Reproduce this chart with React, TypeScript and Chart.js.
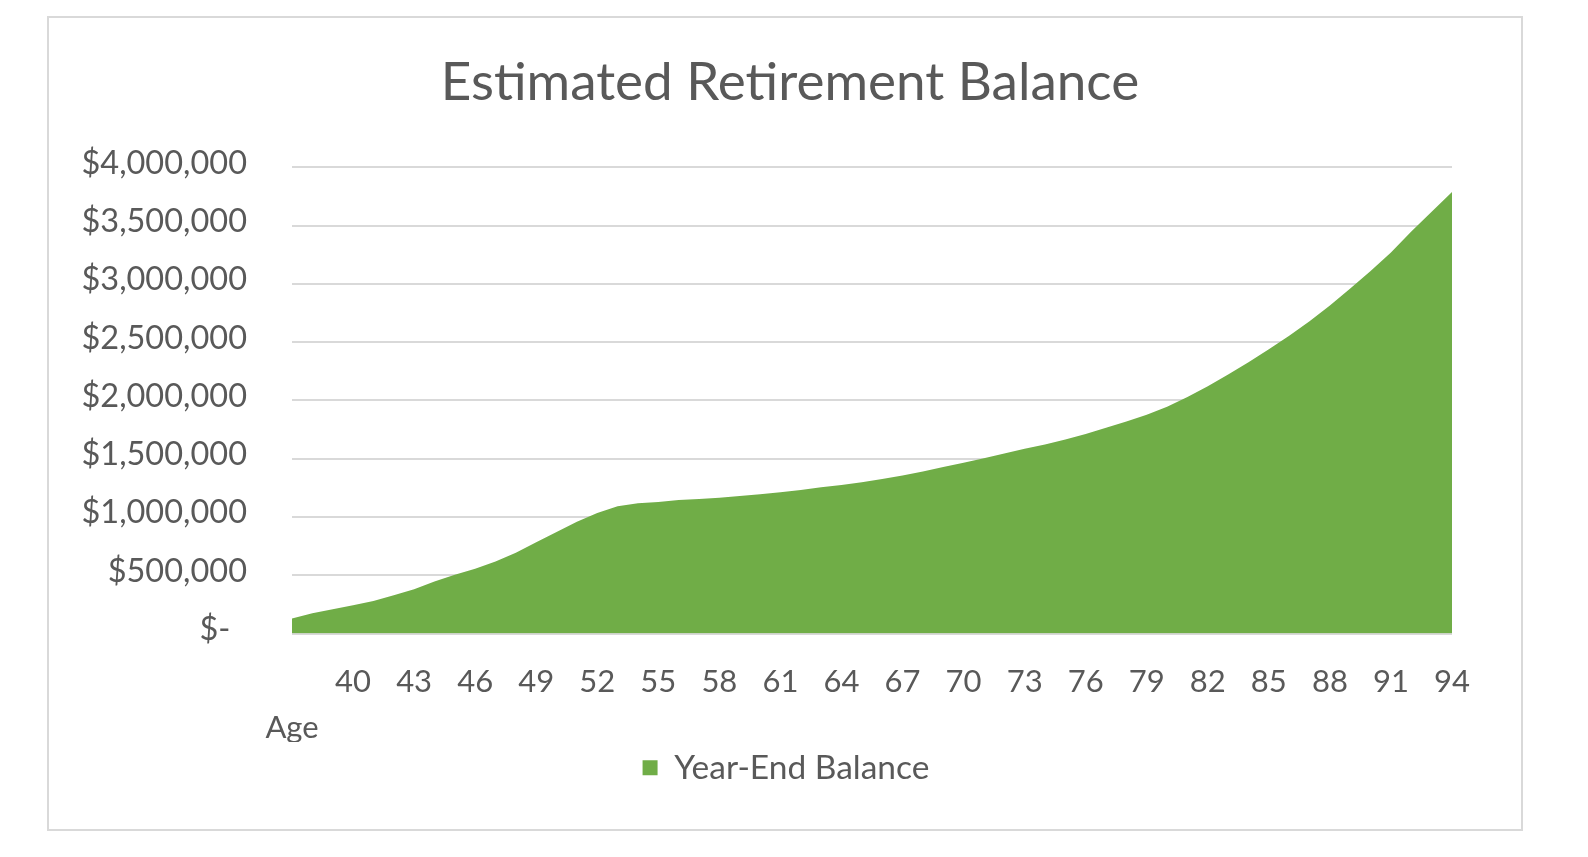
import React, { useEffect, useRef } from "react";
import { Chart, registerables } from "chart.js";

Chart.register(...registerables);

const ages: number[] = [
  37, 38, 39, 40, 41, 42, 43, 44, 45, 46, 47, 48, 49, 50, 51, 52, 53, 54, 55, 56,
  57, 58, 59, 60, 61, 62, 63, 64, 65, 66, 67, 68, 69, 70, 71, 72, 73, 74, 75, 76,
  77, 78, 79, 80, 81, 82, 83, 84, 85, 86, 87, 88, 89, 90, 91, 92, 93, 94,
];

const yearEndBalance: number[] = [
  128000, 174000, 208000, 242000, 279000, 328000, 379000, 447000, 504000, 556000,
  618000, 692000, 784000, 872000, 960000, 1034000, 1091000, 1117000, 1128000, 1145000,
  1155000, 1165000, 1180000, 1195000, 1212000, 1232000, 1255000, 1275000, 1298000, 1325000,
  1355000, 1390000, 1428000, 1465000, 1505000, 1545000, 1585000, 1622000, 1665000, 1712000,
  1765000, 1820000, 1878000, 1945000, 2030000, 2122000, 2222000, 2328000, 2440000, 2555000,
  2680000, 2815000, 2960000, 3110000, 3270000, 3450000, 3620000, 3789000,
];

const yTicks: number[] = [0, 500000, 1000000, 1500000, 2000000, 2500000, 3000000, 3500000, 4000000];

const TITLE = "Estimated Retirement Balance";
const SERIES = "Year-End Balance";
const AXIS_LABEL = "Age";

const TEXT = "#595959";
const GREEN = "#70AD47";
const GRID = "#d9d9d9";
const FONT = "Lato, 'Open Sans', sans-serif";

function fmtMoney(v: number): string {
  if (v === 0) return "$-  ";
  return "$" + v.toLocaleString("en-US");
}

// shift the full-width title / legend boxes so they are centred like the original
const centerShift = {
  id: "centerShift",
  afterLayout(chart: any) {
    if (chart.titleBlock) {
      chart.titleBlock.left += 128;
    }
    if (chart.legend) {
      chart.legend.left += 120;
    }
  },
};

export default function App() {
  const ref = useRef<HTMLCanvasElement | null>(null);

  useEffect(() => {
    if (!ref.current) return;
    const chart = new Chart(ref.current, {
      type: "line",
      data: {
        labels: ages.map(String),
        datasets: [
          {
            label: SERIES,
            data: yearEndBalance,
            fill: "origin",
            backgroundColor: GREEN,
            borderColor: GREEN,
            borderWidth: 0,
            pointRadius: 0,
            pointHoverRadius: 0,
            tension: 0,
          },
        ],
      },
      plugins: [centerShift],
      options: {
        animation: false,
        responsive: false,
        maintainAspectRatio: false,
        layout: { padding: { left: 0, right: 136, top: 0, bottom: 62.5 } },
        plugins: {
          title: {
            display: true,
            text: TITLE,
            color: TEXT,
            font: { family: FONT, size: 53, weight: "normal", lineHeight: 1.2 },
            padding: { top: 51, bottom: 52.8 },
          },
          legend: {
            display: true,
            position: "bottom",
            labels: {
              color: TEXT,
              font: { family: FONT, size: 33.5 },
              boxWidth: 15,
              boxHeight: 15,
              padding: 9,
            },
          },
          tooltip: { enabled: false },
        },
        scales: {
          x: {
            type: "category",
            offset: false,
            grid: { display: false, drawTicks: false },
            border: { display: false },
            ticks: {
              autoSkip: false,
              maxRotation: 0,
              minRotation: 0,
              color: TEXT,
              padding: 25,
              font: { family: FONT, size: 31, lineHeight: 1.5 },
              callback: (_v: any, i: number) => {
                if (i === 0) return ["", AXIS_LABEL];
                return i % 3 === 0 ? String(ages[i]) : "";
              },
            },
            afterFit: (s: any) => {
              s.height = 108.5;
            },
          },
          y: {
            min: 0,
            max: 4000000,
            afterBuildTicks: (s: any) => {
              s.ticks = yTicks.map((v) => ({ value: v }));
            },
            grid: { color: GRID, lineWidth: 2, drawTicks: false },
            border: { display: false },
            ticks: {
              color: TEXT,
              padding: 45,
              labelOffset: -4,
              font: { family: FONT, size: 32.5 },
              callback: (v: any) => fmtMoney(Number(v)),
            },
            afterFit: (s: any) => {
              s.width = 292;
            },
          },
        },
      },
    });
    return () => chart.destroy();
  }, []);

  return (
    <div style={{ position: "absolute", left: 0, top: 0, width: 1588, height: 857, background: "#fff" }}>
      <div
        style={{
          position: "absolute",
          left: 47,
          top: 16,
          width: 1476,
          height: 815,
          border: "2px solid #d9d9d9",
          boxSizing: "border-box",
        }}
      />
      <canvas
        ref={ref}
        width={1588}
        height={857}
        style={{ position: "absolute", left: 0, top: 0, width: 1588, height: 857 }}
      />
    </div>
  );
}
